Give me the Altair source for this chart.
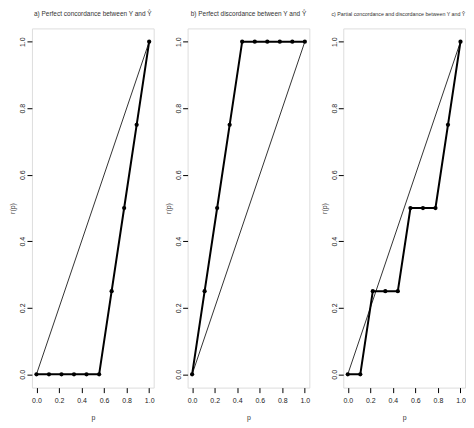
import altair as alt
import pandas as pd

p = [0.0, 0.111, 0.222, 0.333, 0.444, 0.556, 0.667, 0.778, 0.889, 1.0]
r_a = [0.0, 0.0, 0.0, 0.0, 0.0, 0.0, 0.25, 0.5, 0.75, 1.0]
r_b = [0.0, 0.25, 0.5, 0.75, 1.0, 1.0, 1.0, 1.0, 1.0, 1.0]
r_c = [0.0, 0.0, 0.25, 0.25, 0.25, 0.5, 0.5, 0.5, 0.75, 1.0]
diag_p = [0.0, 1.0]
diag_r = [0.0, 1.0]
titles = [
    "a) Perfect concordance between Y and Ŷ",
    "b) Perfect discordance between Y and Ŷ",
    "c) Partial concordance and discordance between Y and Ŷ",
]
title_sizes = [6.5, 6.5, 5.3]
title_anchor = ["middle", "middle", "end"]
ticks = [0.0, 0.2, 0.4, 0.6, 0.8, 1.0]

FONT = "Liberation Sans, Arial, sans-serif"


def panel(r, title, tsize, anchor):
    df = pd.DataFrame({"p": p, "r": r})
    dd = pd.DataFrame({"p": diag_p, "r": diag_r})
    xs = alt.Scale(domain=[-0.04, 1.04], nice=False, zero=False)
    ys = alt.Scale(domain=[-0.04, 1.04], nice=False, zero=False)
    xax = alt.Axis(values=ticks, format=".1f", title="p", grid=False, domain=False,
                   tickSize=5, tickColor="black", labelPadding=4, titlePadding=10,
                   labelFontSize=7, titleFontSize=7, labelFont=FONT, titleFont=FONT,
                   labelColor="#222", titleColor="#333", titleFontWeight="normal")
    yax = alt.Axis(values=ticks, format=".1f", title="r(p)", grid=False, domain=False,
                   tickSize=5, tickColor="black", labelPadding=1, titlePadding=3,
                   labelAngle=270, labelAlign="center", labelBaseline="bottom",
                   labelFontSize=7, titleFontSize=7, labelFont=FONT, titleFont=FONT,
                   labelColor="#222", titleColor="#333", titleFontWeight="normal")
    diag = alt.Chart(dd).mark_line(color="#333", strokeWidth=1).encode(
        x=alt.X("p:Q", scale=xs, axis=xax),
        y=alt.Y("r:Q", scale=ys, axis=yax),
    )
    main = alt.Chart(df).mark_line(color="black", strokeWidth=2,
                                   point=alt.OverlayMarkDef(filled=True, color="black", size=18)).encode(
        x=alt.X("p:Q", scale=xs, axis=xax),
        y=alt.Y("r:Q", scale=ys, axis=yax),
    )
    return alt.layer(diag, main).properties(
        width=122, height=360,
        title=alt.TitleParams(title, fontSize=tsize, font=FONT, fontWeight="normal",
                              color="#333", offset=11, anchor=anchor),
    )


chart = alt.hconcat(
    *[panel(r, t, s, a) for r, t, s, a in zip([r_a, r_b, r_c], titles, title_sizes, title_anchor)],
    spacing=34, bounds="flush",
).properties(
    padding={"left": 0, "top": 2, "right": 0, "bottom": 0},
).configure_view(stroke="#222", strokeWidth=1.3).configure(background="white")

chart.save("out.html", embed_options={"renderer": "svg", "actions": False})
